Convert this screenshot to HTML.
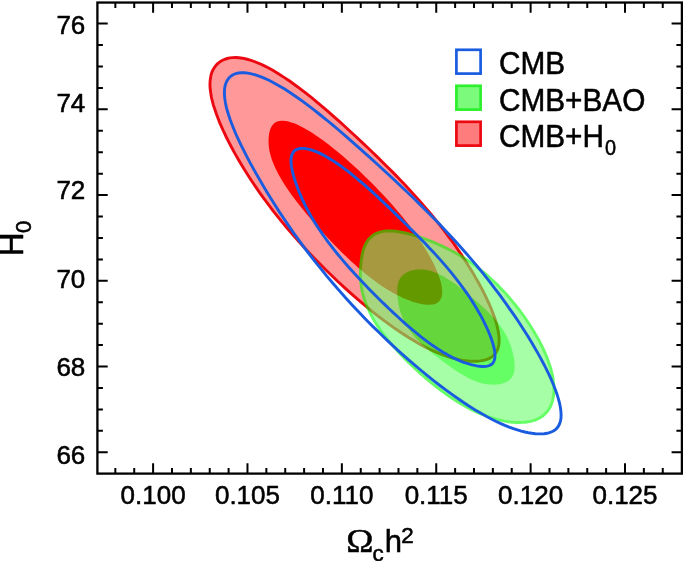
<!DOCTYPE html>
<html><head><meta charset="utf-8"><title>Plot</title>
<style>html,body{margin:0;padding:0;background:#fff}svg text{fill:#000;stroke:#000;stroke-width:0.55px;stroke-linejoin:round}</style></head>
<body>
<svg width="683" height="561" viewBox="0 0 683 561" style="display:block;filter:blur(0.45px)">
<rect width="683" height="561" fill="#fff"/>
<path d="M215.4 66.1L216.9 64.3L218.6 62.8L220.5 61.4L222.6 60.3L224.8 59.3L227.2 58.5L229.8 57.9L232.7 57.6L235.7 57.5L239.0 57.7L242.5 58.2L246.2 59.0L250.2 60.1L254.3 61.5L258.8 63.3L263.4 65.4L268.2 67.8L273.2 70.6L278.4 73.7L283.7 77.1L289.2 80.8L294.7 84.7L300.3 88.8L305.9 93.2L311.6 97.7L317.2 102.3L322.9 107.1L328.5 111.9L334.1 116.8L339.6 121.7L345.2 126.7L350.6 131.8L356.1 136.8L361.5 141.9L367.0 147.0L372.4 152.2L377.8 157.4L383.1 162.7L388.5 168.0L393.9 173.4L399.3 178.9L404.6 184.5L409.9 190.2L415.1 195.9L420.3 201.7L425.4 207.6L430.4 213.5L435.3 219.4L440.1 225.4L444.7 231.3L449.1 237.3L453.5 243.2L457.6 249.1L461.5 254.9L465.3 260.7L468.9 266.4L472.4 272.0L475.6 277.6L478.7 283.0L481.6 288.4L484.3 293.6L486.8 298.8L489.1 303.8L491.2 308.7L493.0 313.4L494.7 318.0L496.1 322.4L497.2 326.6L498.1 330.6L498.7 334.4L499.1 337.9L499.1 341.2L498.9 344.2L498.4 347.0L497.6 349.5L496.5 351.7L495.2 353.7L493.7 355.4L491.9 356.9L489.9 358.1L487.7 359.1L485.4 359.9L482.9 360.5L480.2 360.9L477.4 361.2L474.5 361.3L471.5 361.2L468.3 361.0L465.1 360.6L461.7 360.1L458.2 359.4L454.5 358.5L450.8 357.5L446.8 356.3L442.8 354.8L438.6 353.2L434.2 351.4L429.7 349.3L425.1 347.0L420.3 344.4L415.3 341.6L410.3 338.6L405.1 335.3L399.8 331.8L394.4 328.1L388.9 324.2L383.4 320.1L377.8 315.8L372.1 311.3L366.4 306.7L360.7 301.9L354.9 296.9L349.2 291.8L343.4 286.6L337.6 281.3L331.9 275.8L326.2 270.3L320.5 264.6L314.8 258.8L309.3 253.0L303.8 247.1L298.4 241.1L293.1 235.1L287.9 229.0L282.8 222.9L277.9 216.9L273.1 210.8L268.5 204.7L264.0 198.7L259.8 192.8L255.7 186.9L251.7 181.0L248.0 175.3L244.4 169.6L241.0 164.0L237.8 158.5L234.7 153.1L231.8 147.8L229.1 142.6L226.5 137.5L224.1 132.5L221.9 127.6L219.8 122.9L218.0 118.2L216.3 113.7L214.8 109.3L213.4 105.1L212.3 101.0L211.4 97.1L210.8 93.3L210.3 89.8L210.0 86.4L210.0 83.2L210.2 80.2L210.6 77.4L211.1 74.7L211.9 72.3L212.9 70.0L214.1 68.0Z" fill="#ff9999" stroke="#ec0810" stroke-width="2.9"/>
<path d="M271.5 126.6L272.3 125.4L273.2 124.3L274.2 123.3L275.3 122.5L276.6 121.8L278.0 121.2L279.6 120.9L281.3 120.7L283.2 120.7L285.3 120.9L287.5 121.3L289.8 121.9L292.3 122.7L294.9 123.6L297.6 124.8L300.5 126.2L303.4 127.7L306.5 129.4L309.6 131.3L312.8 133.3L316.0 135.4L319.3 137.7L322.6 140.0L325.9 142.5L329.3 145.1L332.6 147.7L336.0 150.5L339.4 153.3L342.7 156.1L346.1 159.0L349.4 162.0L352.8 165.0L356.1 168.0L359.4 171.1L362.7 174.2L366.0 177.4L369.2 180.6L372.5 183.8L375.7 187.1L378.9 190.4L382.1 193.8L385.2 197.1L388.4 200.6L391.5 204.0L394.5 207.5L397.5 211.0L400.5 214.5L403.4 218.0L406.2 221.6L409.0 225.1L411.6 228.7L414.2 232.2L416.8 235.8L419.2 239.3L421.5 242.7L423.7 246.2L425.8 249.6L427.8 252.9L429.7 256.2L431.4 259.4L433.1 262.6L434.6 265.7L435.9 268.7L437.2 271.6L438.3 274.5L439.3 277.2L440.2 279.9L440.9 282.4L441.4 284.9L441.8 287.2L442.1 289.4L442.2 291.4L442.2 293.4L442.0 295.2L441.6 296.8L441.1 298.3L440.4 299.6L439.6 300.8L438.6 301.8L437.5 302.7L436.3 303.4L434.9 303.9L433.4 304.4L431.8 304.6L430.1 304.8L428.2 304.8L426.3 304.7L424.3 304.5L422.3 304.2L420.1 303.7L417.9 303.2L415.6 302.6L413.2 301.9L410.8 301.0L408.3 300.1L405.7 299.1L403.0 297.9L400.3 296.6L397.5 295.3L394.6 293.7L391.6 292.1L388.5 290.3L385.4 288.3L382.2 286.2L378.9 284.0L375.6 281.6L372.3 279.1L368.9 276.5L365.4 273.7L362.0 270.8L358.5 267.9L355.1 264.8L351.6 261.7L348.2 258.5L344.8 255.2L341.4 251.9L338.0 248.5L334.7 245.2L331.4 241.7L328.1 238.3L324.9 234.8L321.7 231.3L318.5 227.8L315.3 224.2L312.2 220.7L309.1 217.1L306.1 213.4L303.1 209.8L300.1 206.1L297.3 202.5L294.5 198.8L291.8 195.2L289.2 191.6L286.8 188.0L284.5 184.4L282.3 180.9L280.3 177.5L278.4 174.2L276.8 171.0L275.3 167.9L273.9 164.8L272.8 161.9L271.7 159.2L270.9 156.5L270.2 154.0L269.6 151.6L269.2 149.3L268.9 147.1L268.7 144.9L268.6 142.9L268.5 141.0L268.6 139.1L268.7 137.3L268.9 135.6L269.1 133.9L269.4 132.3L269.8 130.8L270.3 129.3L270.9 127.9Z" fill="#f00"/>
<g opacity="0.6">
<path d="M367.3 241.4L368.6 239.5L370.2 237.7L371.9 236.2L373.9 234.8L376.0 233.6L378.3 232.6L380.8 231.9L383.4 231.4L386.2 231.0L389.1 230.9L392.2 231.0L395.4 231.2L398.6 231.7L402.0 232.3L405.3 233.0L408.8 233.8L412.3 234.8L415.8 235.8L419.3 237.0L422.9 238.2L426.5 239.5L430.1 240.9L433.7 242.4L437.4 244.0L441.1 245.6L444.8 247.4L448.6 249.2L452.4 251.2L456.2 253.3L460.0 255.6L463.9 258.0L467.7 260.5L471.6 263.1L475.4 265.9L479.2 268.8L483.0 271.8L486.7 274.9L490.3 278.2L493.9 281.5L497.4 284.9L500.8 288.4L504.2 291.9L507.4 295.5L510.5 299.1L513.6 302.8L516.5 306.5L519.4 310.2L522.1 313.9L524.8 317.6L527.3 321.3L529.8 325.0L532.1 328.7L534.4 332.5L536.5 336.2L538.6 339.8L540.5 343.5L542.4 347.2L544.1 350.8L545.6 354.4L547.1 358.0L548.4 361.5L549.6 365.0L550.7 368.4L551.6 371.8L552.4 375.1L553.0 378.3L553.4 381.5L553.8 384.6L553.9 387.6L553.9 390.5L553.8 393.3L553.5 396.1L553.0 398.7L552.4 401.2L551.6 403.6L550.7 405.8L549.6 408.0L548.4 409.9L547.0 411.8L545.4 413.5L543.7 415.1L541.9 416.5L539.9 417.8L537.7 418.9L535.5 419.8L533.1 420.7L530.6 421.3L528.0 421.8L525.3 422.2L522.4 422.4L519.5 422.5L516.5 422.5L513.5 422.3L510.3 422.0L507.1 421.5L503.8 420.9L500.5 420.2L497.0 419.4L493.5 418.4L490.0 417.3L486.4 416.0L482.8 414.6L479.1 413.1L475.4 411.4L471.6 409.6L467.8 407.7L464.1 405.6L460.3 403.4L456.4 401.1L452.6 398.6L448.9 396.1L445.1 393.4L441.3 390.6L437.6 387.8L433.9 384.9L430.2 381.9L426.6 378.9L423.0 375.7L419.4 372.6L415.8 369.3L412.3 366.0L408.8 362.7L405.4 359.3L402.0 355.8L398.7 352.2L395.4 348.6L392.2 345.0L389.0 341.3L386.0 337.5L383.1 333.7L380.3 329.9L377.7 326.1L375.2 322.2L372.9 318.4L370.9 314.5L369.0 310.7L367.3 307.0L365.8 303.3L364.5 299.7L363.4 296.2L362.5 292.8L361.8 289.4L361.3 286.2L360.9 283.0L360.6 279.9L360.4 276.9L360.4 274.0L360.4 271.2L360.5 268.4L360.7 265.6L361.0 262.9L361.3 260.3L361.7 257.7L362.1 255.1L362.7 252.6L363.3 250.2L364.1 247.8L365.0 245.6L366.1 243.4Z" fill="#6cff6c" stroke="#00ff00" stroke-width="2.9"/>
<path d="M401.7 276.3L402.6 275.3L403.6 274.4L404.7 273.6L405.9 272.9L407.2 272.2L408.5 271.6L409.9 271.1L411.3 270.6L412.8 270.2L414.4 269.9L416.0 269.6L417.7 269.5L419.5 269.4L421.3 269.4L423.2 269.5L425.2 269.7L427.2 270.1L429.3 270.5L431.5 271.1L433.7 271.9L435.9 272.7L438.2 273.7L440.6 274.9L442.9 276.1L445.3 277.4L447.6 278.9L450.0 280.4L452.3 282.0L454.6 283.6L456.9 285.3L459.1 287.1L461.3 288.8L463.5 290.6L465.7 292.3L467.9 294.1L470.0 295.9L472.1 297.7L474.3 299.5L476.4 301.3L478.5 303.1L480.7 305.0L482.8 306.9L484.9 308.8L487.0 310.8L489.1 312.9L491.1 314.9L493.1 317.1L495.1 319.3L496.9 321.5L498.7 323.7L500.4 326.0L502.0 328.3L503.4 330.6L504.8 332.8L506.1 335.1L507.2 337.3L508.2 339.6L509.2 341.7L510.0 343.9L510.8 346.0L511.4 348.1L512.1 350.1L512.6 352.2L513.1 354.2L513.5 356.1L513.9 358.0L514.2 359.9L514.4 361.8L514.5 363.6L514.6 365.4L514.6 367.2L514.5 368.8L514.4 370.5L514.1 372.0L513.7 373.5L513.1 374.9L512.5 376.2L511.8 377.4L510.9 378.5L510.0 379.5L508.9 380.4L507.7 381.2L506.5 381.9L505.2 382.5L503.8 383.1L502.3 383.5L500.8 383.9L499.3 384.2L497.6 384.4L496.0 384.6L494.2 384.7L492.5 384.7L490.7 384.6L488.8 384.5L486.8 384.3L484.9 383.9L482.8 383.5L480.7 383.0L478.6 382.3L476.4 381.6L474.2 380.7L472.0 379.8L469.7 378.7L467.4 377.6L465.2 376.3L462.9 375.0L460.6 373.6L458.3 372.2L456.0 370.7L453.8 369.2L451.5 367.6L449.3 366.0L447.1 364.4L444.9 362.8L442.7 361.2L440.4 359.5L438.2 357.8L435.9 356.1L433.7 354.4L431.4 352.6L429.1 350.7L426.9 348.8L424.6 346.8L422.4 344.7L420.2 342.6L418.1 340.5L416.0 338.2L414.0 336.0L412.1 333.6L410.4 331.3L408.7 328.9L407.2 326.6L405.8 324.2L404.5 321.9L403.4 319.6L402.4 317.3L401.5 315.1L400.8 313.0L400.1 310.8L399.5 308.8L399.0 306.7L398.6 304.8L398.3 302.8L398.0 300.9L397.7 299.1L397.5 297.2L397.4 295.4L397.3 293.7L397.2 291.9L397.2 290.2L397.3 288.6L397.4 286.9L397.6 285.4L397.9 283.9L398.3 282.4L398.8 281.0L399.3 279.7L400.0 278.5L400.8 277.4Z" fill="#00ff00"/>
</g>
<path d="M228.1 79.0L229.7 77.2L231.5 75.7L233.5 74.5L235.8 73.6L238.4 73.0L241.3 72.7L244.4 72.7L247.8 73.1L251.5 73.8L255.5 74.9L259.7 76.3L264.2 78.1L269.0 80.3L274.0 82.9L279.3 85.9L284.7 89.1L290.3 92.8L296.1 96.7L302.1 100.9L308.1 105.4L314.3 110.1L320.4 115.0L326.7 120.0L332.9 125.2L339.2 130.5L345.4 135.9L351.7 141.3L357.9 146.8L364.1 152.3L370.3 157.9L376.5 163.5L382.7 169.2L389.0 175.0L395.2 180.8L401.5 186.7L407.9 192.7L414.2 198.8L420.6 205.1L427.0 211.5L433.5 218.0L439.9 224.6L446.3 231.4L452.7 238.2L459.0 245.2L465.2 252.3L471.4 259.4L477.4 266.5L483.3 273.7L489.0 280.9L494.5 288.1L499.9 295.2L505.1 302.3L510.0 309.3L514.8 316.2L519.4 323.0L523.7 329.7L527.9 336.3L531.8 342.8L535.6 349.2L539.1 355.4L542.4 361.5L545.5 367.4L548.3 373.2L550.9 378.7L553.2 384.1L555.2 389.3L557.0 394.2L558.4 398.9L559.6 403.3L560.4 407.4L560.9 411.2L561.1 414.8L561.0 418.0L560.5 420.9L559.7 423.4L558.7 425.7L557.3 427.7L555.7 429.3L553.8 430.7L551.8 431.8L549.5 432.7L547.0 433.3L544.3 433.7L541.4 433.9L538.4 433.9L535.3 433.7L532.0 433.3L528.5 432.7L525.0 432.0L521.3 431.1L517.4 429.9L513.4 428.6L509.2 427.1L504.8 425.3L500.3 423.4L495.7 421.2L490.8 418.7L485.8 416.0L480.6 413.1L475.2 409.9L469.7 406.5L464.0 402.8L458.2 398.8L452.3 394.6L446.1 390.2L439.9 385.5L433.6 380.6L427.1 375.4L420.6 370.0L413.9 364.4L407.2 358.6L400.4 352.6L393.6 346.4L386.7 339.9L379.9 333.3L373.0 326.6L366.1 319.7L359.3 312.6L352.6 305.4L346.0 298.2L339.5 290.9L333.1 283.5L326.8 276.1L320.8 268.7L314.9 261.3L309.2 254.0L303.7 246.8L298.5 239.6L293.4 232.6L288.6 225.6L284.0 218.8L279.5 212.1L275.3 205.5L271.2 199.0L267.3 192.7L263.6 186.5L260.0 180.3L256.5 174.3L253.2 168.4L250.0 162.6L247.0 156.8L244.1 151.2L241.3 145.7L238.8 140.3L236.3 135.0L234.1 129.8L232.1 124.8L230.3 120.0L228.7 115.3L227.3 110.8L226.2 106.6L225.4 102.5L224.8 98.7L224.5 95.1L224.4 91.8L224.6 88.7L225.1 85.9L225.9 83.3L226.9 81.0Z" fill="none" stroke="#1a5ce0" stroke-width="2.9"/>
<path d="M292.9 152.7L293.8 151.5L294.8 150.5L296.1 149.7L297.5 149.1L299.0 148.7L300.8 148.4L302.7 148.4L304.8 148.5L307.0 148.9L309.4 149.4L311.9 150.1L314.6 151.1L317.4 152.2L320.4 153.6L323.5 155.1L326.7 156.9L330.1 158.9L333.6 161.1L337.2 163.5L340.9 166.1L344.6 168.8L348.5 171.7L352.3 174.8L356.2 178.0L360.2 181.3L364.1 184.7L368.0 188.2L372.0 191.7L375.9 195.3L379.7 198.9L383.6 202.5L387.4 206.1L391.2 209.8L395.0 213.4L398.7 217.1L402.5 220.8L406.3 224.5L410.0 228.2L413.8 232.0L417.6 235.8L421.5 239.7L425.3 243.6L429.1 247.7L433.0 251.7L436.8 255.9L440.6 260.1L444.3 264.4L447.9 268.6L451.5 272.9L455.0 277.3L458.3 281.6L461.5 285.8L464.6 290.1L467.5 294.2L470.3 298.3L472.9 302.4L475.3 306.3L477.6 310.2L479.8 313.9L481.8 317.6L483.6 321.2L485.3 324.6L486.9 328.0L488.4 331.3L489.7 334.5L490.9 337.5L491.9 340.5L492.8 343.4L493.6 346.1L494.2 348.7L494.7 351.1L494.9 353.4L495.0 355.6L494.9 357.5L494.6 359.3L494.1 360.8L493.4 362.2L492.6 363.4L491.5 364.3L490.3 365.1L488.9 365.7L487.4 366.1L485.7 366.4L483.9 366.5L482.0 366.5L480.0 366.3L477.9 366.1L475.7 365.7L473.5 365.2L471.2 364.6L468.8 363.9L466.3 363.2L463.7 362.3L461.1 361.3L458.3 360.1L455.5 358.9L452.5 357.5L449.5 355.9L446.3 354.1L443.0 352.2L439.6 350.1L436.1 347.8L432.4 345.3L428.7 342.6L425.0 339.8L421.1 336.8L417.2 333.7L413.2 330.4L409.3 327.1L405.2 323.6L401.2 320.0L397.2 316.3L393.2 312.6L389.1 308.8L385.1 304.9L381.0 301.0L377.0 297.0L373.0 293.0L369.0 288.9L365.0 284.8L361.0 280.6L357.0 276.3L353.1 272.0L349.2 267.7L345.3 263.3L341.6 258.9L337.9 254.5L334.4 250.1L330.9 245.7L327.6 241.3L324.5 237.0L321.5 232.7L318.6 228.5L316.0 224.4L313.5 220.4L311.2 216.6L309.1 212.8L307.1 209.1L305.3 205.6L303.7 202.2L302.1 198.8L300.7 195.6L299.4 192.5L298.2 189.4L297.1 186.5L296.0 183.6L295.1 180.7L294.2 178.0L293.4 175.3L292.7 172.7L292.2 170.2L291.7 167.7L291.3 165.4L291.1 163.2L291.0 161.0L291.0 159.1L291.3 157.2L291.6 155.6L292.2 154.0Z" fill="none" stroke="#1a5ce0" stroke-width="2.9"/>
<rect x="97.4" y="2.55" width="584.5" height="471.05" fill="none" stroke="#000" stroke-width="2.3"/>
<path d="M115.35 473.6v-5.5M115.35 2.55v5.5M134.22 473.6v-5.5M134.22 2.55v5.5M153.10 473.6v-10.3M153.10 2.55v10.3M171.98 473.6v-5.5M171.98 2.55v5.5M190.85 473.6v-5.5M190.85 2.55v5.5M209.73 473.6v-5.5M209.73 2.55v5.5M228.60 473.6v-5.5M228.60 2.55v5.5M247.48 473.6v-10.3M247.48 2.55v10.3M266.36 473.6v-5.5M266.36 2.55v5.5M285.23 473.6v-5.5M285.23 2.55v5.5M304.11 473.6v-5.5M304.11 2.55v5.5M322.98 473.6v-5.5M322.98 2.55v5.5M341.86 473.6v-10.3M341.86 2.55v10.3M360.74 473.6v-5.5M360.74 2.55v5.5M379.61 473.6v-5.5M379.61 2.55v5.5M398.49 473.6v-5.5M398.49 2.55v5.5M417.36 473.6v-5.5M417.36 2.55v5.5M436.24 473.6v-10.3M436.24 2.55v10.3M455.12 473.6v-5.5M455.12 2.55v5.5M473.99 473.6v-5.5M473.99 2.55v5.5M492.87 473.6v-5.5M492.87 2.55v5.5M511.74 473.6v-5.5M511.74 2.55v5.5M530.62 473.6v-10.3M530.62 2.55v10.3M549.50 473.6v-5.5M549.50 2.55v5.5M568.37 473.6v-5.5M568.37 2.55v5.5M587.25 473.6v-5.5M587.25 2.55v5.5M606.12 473.6v-5.5M606.12 2.55v5.5M625.00 473.6v-10.3M625.00 2.55v10.3M643.88 473.6v-5.5M643.88 2.55v5.5M662.75 473.6v-5.5M662.75 2.55v5.5M97.4 452.30h10.3M681.9 452.30h-10.3M97.4 430.87h5.5M681.9 430.87h-5.5M97.4 409.43h5.5M681.9 409.43h-5.5M97.4 388.00h5.5M681.9 388.00h-5.5M97.4 366.56h10.3M681.9 366.56h-10.3M97.4 345.12h5.5M681.9 345.12h-5.5M97.4 323.69h5.5M681.9 323.69h-5.5M97.4 302.25h5.5M681.9 302.25h-5.5M97.4 280.82h10.3M681.9 280.82h-10.3M97.4 259.38h5.5M681.9 259.38h-5.5M97.4 237.95h5.5M681.9 237.95h-5.5M97.4 216.51h5.5M681.9 216.51h-5.5M97.4 195.08h10.3M681.9 195.08h-10.3M97.4 173.64h5.5M681.9 173.64h-5.5M97.4 152.21h5.5M681.9 152.21h-5.5M97.4 130.78h5.5M681.9 130.78h-5.5M97.4 109.34h10.3M681.9 109.34h-10.3M97.4 87.91h5.5M681.9 87.91h-5.5M97.4 66.47h5.5M681.9 66.47h-5.5M97.4 45.03h5.5M681.9 45.03h-5.5M97.4 23.60h10.3M681.9 23.60h-10.3" stroke="#000" stroke-width="2.0" fill="none"/>
<text x="153.10" y="504.0" font-family="Liberation Sans, Arial, Helvetica, sans-serif" font-size="26" text-anchor="middle">0.100</text>
<text x="247.48" y="504.0" font-family="Liberation Sans, Arial, Helvetica, sans-serif" font-size="26" text-anchor="middle">0.105</text>
<text x="341.86" y="504.0" font-family="Liberation Sans, Arial, Helvetica, sans-serif" font-size="26" text-anchor="middle">0.110</text>
<text x="436.24" y="504.0" font-family="Liberation Sans, Arial, Helvetica, sans-serif" font-size="26" text-anchor="middle">0.115</text>
<text x="530.62" y="504.0" font-family="Liberation Sans, Arial, Helvetica, sans-serif" font-size="26" text-anchor="middle">0.120</text>
<text x="625.00" y="504.0" font-family="Liberation Sans, Arial, Helvetica, sans-serif" font-size="26" text-anchor="middle">0.125</text>
<text x="85.3" y="33.9" font-family="Liberation Sans, Arial, Helvetica, sans-serif" font-size="26" text-anchor="end">76</text>
<text x="85.3" y="112.1" font-family="Liberation Sans, Arial, Helvetica, sans-serif" font-size="26" text-anchor="end">74</text>
<text x="85.3" y="199.1" font-family="Liberation Sans, Arial, Helvetica, sans-serif" font-size="26" text-anchor="end">72</text>
<text x="85.3" y="287.7" font-family="Liberation Sans, Arial, Helvetica, sans-serif" font-size="26" text-anchor="end">70</text>
<text x="85.3" y="375.6" font-family="Liberation Sans, Arial, Helvetica, sans-serif" font-size="26" text-anchor="end">68</text>
<text x="85.3" y="463.8" font-family="Liberation Sans, Arial, Helvetica, sans-serif" font-size="26" text-anchor="end">66</text>
<text transform="translate(346.3 552.3) scale(1.11 1)" font-family="Liberation Serif, Times New Roman, serif" font-size="33" style="stroke-width:0.5px">Ω</text>
<text x="372.5" y="561.3" font-family="Liberation Sans, Arial, Helvetica, sans-serif" font-size="22.4">c</text>
<text x="384.8" y="552.3" font-family="Liberation Sans, Arial, Helvetica, sans-serif" font-size="31">h</text>
<text x="401.2" y="543.4" font-family="Liberation Sans, Arial, Helvetica, sans-serif" font-size="22.4">2</text>
<g transform="translate(23.3 256.2) rotate(-90)"><text x="0" y="0" font-family="Liberation Sans, Arial, Helvetica, sans-serif" font-size="33">H</text><text x="23.3" y="8.1" font-family="Liberation Sans, Arial, Helvetica, sans-serif" font-size="22">0</text></g>
<rect x="456.4" y="49.80" width="24.2" height="23.8" fill="#fff" stroke="#1a5ce0" stroke-width="2.7"/>
<text transform="translate(498.9 74.2) scale(0.925 1)" font-family="Liberation Sans, Arial, Helvetica, sans-serif" font-size="32.2">CMB</text>
<rect x="456.4" y="85.80" width="24.2" height="23.8" fill="#7cfa7c" stroke="#2cf02c" stroke-width="2.7"/>
<text transform="translate(498.9 110.5) scale(0.925 1)" font-family="Liberation Sans, Arial, Helvetica, sans-serif" font-size="32.2">CMB+BAO</text>
<rect x="456.4" y="121.80" width="24.2" height="23.8" fill="#ff7c7c" stroke="#ec0810" stroke-width="2.7"/>
<text transform="translate(498.9 146.8) scale(0.925 1)" font-family="Liberation Sans, Arial, Helvetica, sans-serif" font-size="32.2">CMB+H<tspan font-size="21.5" dx="1.2" dy="8.3">0</tspan></text>
</svg>
</body></html>
